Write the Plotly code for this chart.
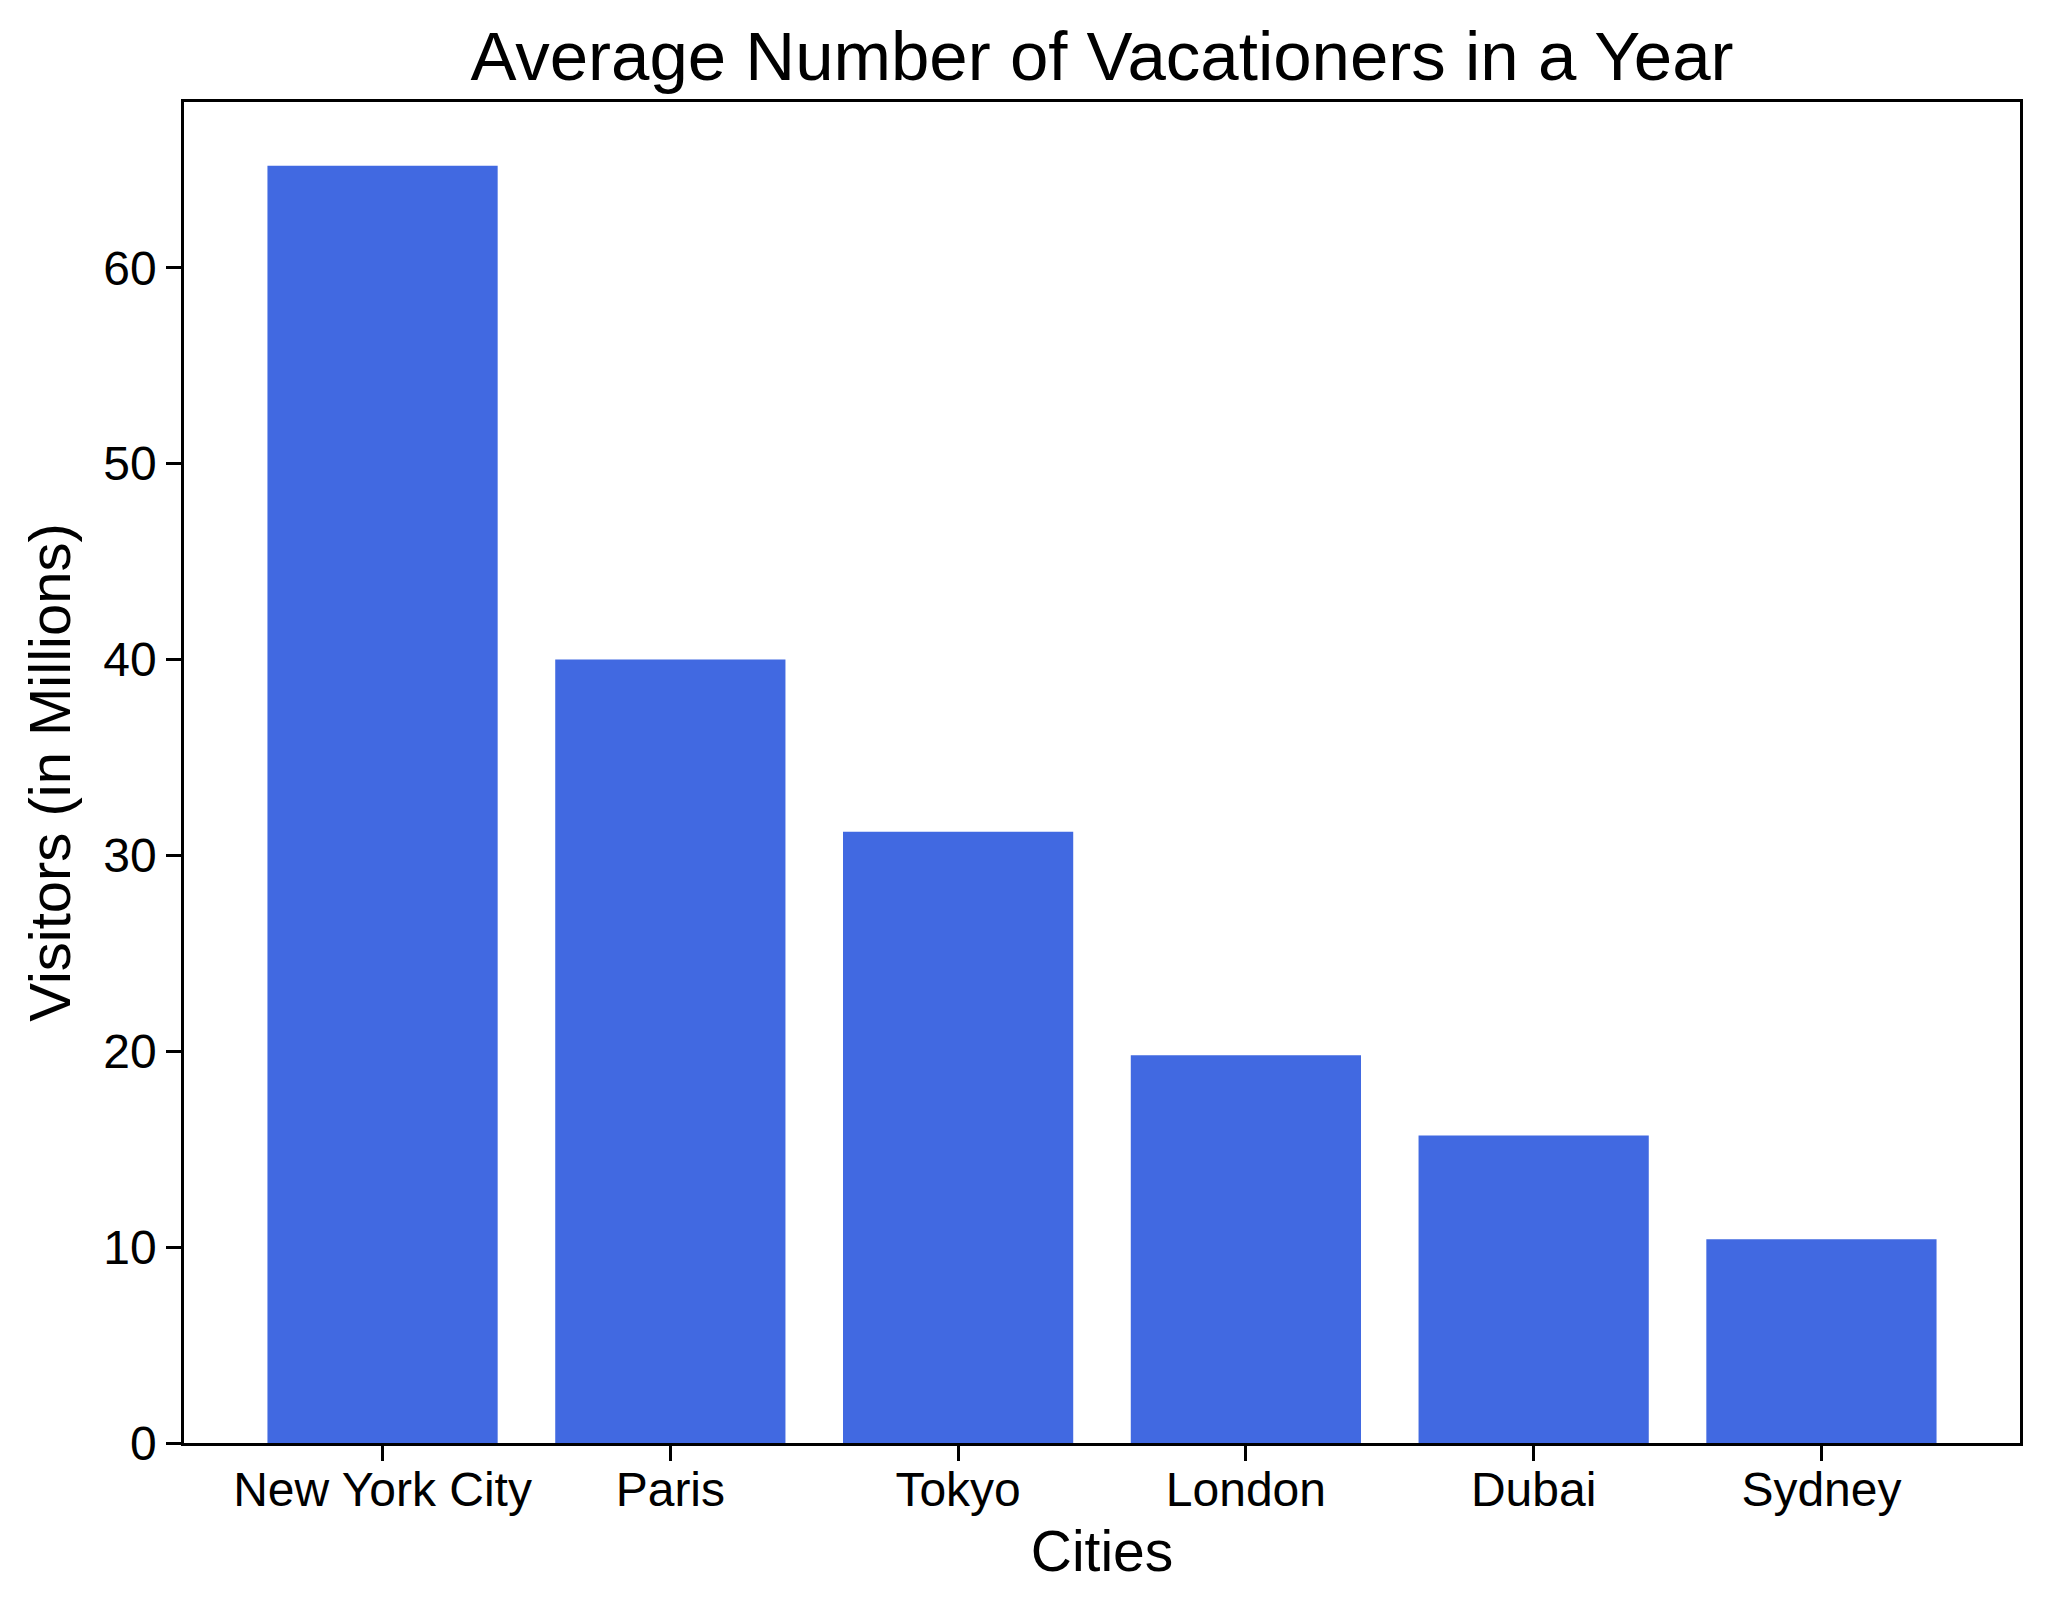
import plotly.graph_objects as go

# data
cities = ['New York City', 'Paris', 'Tokyo', 'London', 'Dubai', 'Sydney']
visitors = [65.2, 40.0, 31.2, 19.8, 15.7, 10.4]

FONT = 'Liberation Sans, Arial, sans-serif'

# page body has an 8px default margin, so the figure is 8px smaller than the window
W, H = 2040, 1610

fig = go.Figure()
fig.add_trace(go.Bar(x=cities, y=visitors, marker=dict(color='#4169E1', line=dict(width=0))))

fig.update_layout(
    width=W, height=H,
    margin=dict(l=176, r=28, t=94, b=175),
    paper_bgcolor='white', plot_bgcolor='white',
    font=dict(family=FONT, color='black'),
    bargap=0.2,
    showlegend=False,
    title=dict(text='Average Number of Vacationers in a Year', font=dict(size=69, color='black'),
               x=0.5, xref='paper', xanchor='center', y=1 - 48 / H, yref='container', yanchor='middle'),
)
fig.update_xaxes(
    range=[-0.69, 5.69], showline=True, linecolor='black', linewidth=2.5, mirror=True,
    ticks='outside', ticklen=15, tickwidth=2.5, tickcolor='black',
    tickfont=dict(size=48), ticklabelstandoff=-12, showgrid=False,
    title=dict(text='Cities', font=dict(size=57), standoff=16),
)
fig.update_yaxes(
    range=[0, 68.46], dtick=10, showline=True, linecolor='black', linewidth=2.5, mirror=True,
    ticks='outside', ticklen=15, tickwidth=2.5, tickcolor='black',
    tickfont=dict(size=48), showgrid=False, zeroline=False,
    title=dict(text='Visitors (in Millions)', font=dict(size=58), standoff=14),
)

fig.write_html('out.html')
